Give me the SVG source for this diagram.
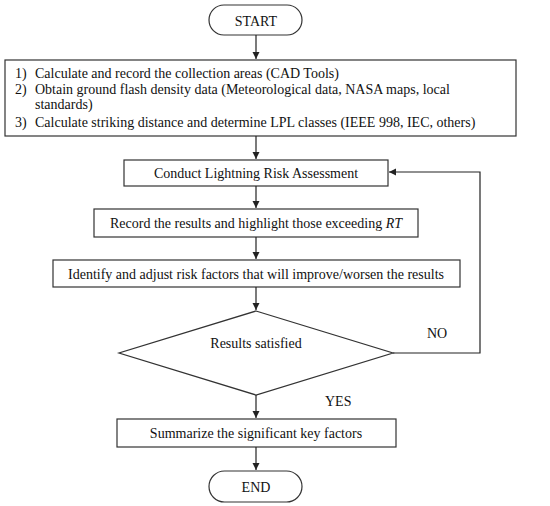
<svg xmlns="http://www.w3.org/2000/svg" width="550" height="506" viewBox="0 0 550 506">
<defs>
<marker id="ah" markerWidth="8" markerHeight="8" refX="7" refY="4" orient="auto" markerUnits="userSpaceOnUse">
<path d="M0,0.5 L7,4 L0,7.5 Z" fill="#222"/>
</marker>
</defs>
<style>
.box{fill:#fff;stroke:#333;stroke-width:1.2}
.t{font-family:"Liberation Serif","Times New Roman",serif;font-size:14px;fill:#111}
.c{text-anchor:middle}
.ln{fill:none;stroke:#222;stroke-width:1.2;marker-end:url(#ah)}
</style>
<rect width="550" height="506" fill="#fff"/>
<g id="start">
<rect class="box" x="209" y="5" width="93" height="30" rx="15"/>
<text class="t c" x="256" y="26">START</text>
</g>
<g id="inputs">
<rect class="box" x="5" y="60" width="511" height="76"/>
<text class="t" x="15" y="78">1)</text>
<text class="t" x="35" y="78">Calculate and record the collection areas (CAD Tools)</text>
<text class="t" x="15" y="94">2)</text>
<text class="t" x="35" y="94">Obtain ground flash density data (Meteorological data, NASA maps, local</text>
<text class="t" x="35" y="109">standards)</text>
<text class="t" x="15" y="127">3)</text>
<text class="t" x="35" y="127">Calculate striking distance and determine LPL classes (IEEE 998, IEC, others)</text>
</g>
<g id="assess">
<rect class="box" x="124" y="160" width="264" height="26"/>
<text class="t c" x="256" y="178">Conduct Lightning Risk Assessment</text>
</g>
<g id="record">
<rect class="box" x="94" y="209" width="324" height="28"/>
<text class="t c" x="256" y="228">Record the results and highlight those exceeding <tspan font-style="italic">RT</tspan></text>
</g>
<g id="identify">
<rect class="box" x="53" y="260" width="407" height="27"/>
<text class="t c" x="256" y="279">Identify and adjust risk factors that will improve/worsen the results</text>
</g>
<g id="decision">
<polygon class="box" points="256,311 393,353 256,395 119,353"/>
<text class="t c" x="256" y="348">Results satisfied</text>
</g>
<g id="summarize">
<rect class="box" x="117" y="419" width="279" height="28"/>
<text class="t c" x="256" y="438">Summarize the significant key factors</text>
</g>
<g id="end">
<rect class="box" x="209" y="471" width="93" height="31" rx="15.5"/>
<text class="t c" x="256" y="492">END</text>
</g>
<g id="connectors">
<line class="ln" x1="256" y1="35" x2="256" y2="59"/>
<line class="ln" x1="256" y1="136" x2="256" y2="159"/>
<line class="ln" x1="256" y1="186" x2="256" y2="208"/>
<line class="ln" x1="256" y1="237" x2="256" y2="259"/>
<line class="ln" x1="256" y1="287" x2="256" y2="310"/>
<line class="ln" x1="256" y1="395" x2="256" y2="418"/>
<line class="ln" x1="256" y1="447" x2="256" y2="470"/>
<polyline class="ln" points="393,353 480,353 480,172 389,172"/>
<text class="t" x="427" y="338">NO</text>
<text class="t" x="325" y="406">YES</text>
</g>
</svg>
